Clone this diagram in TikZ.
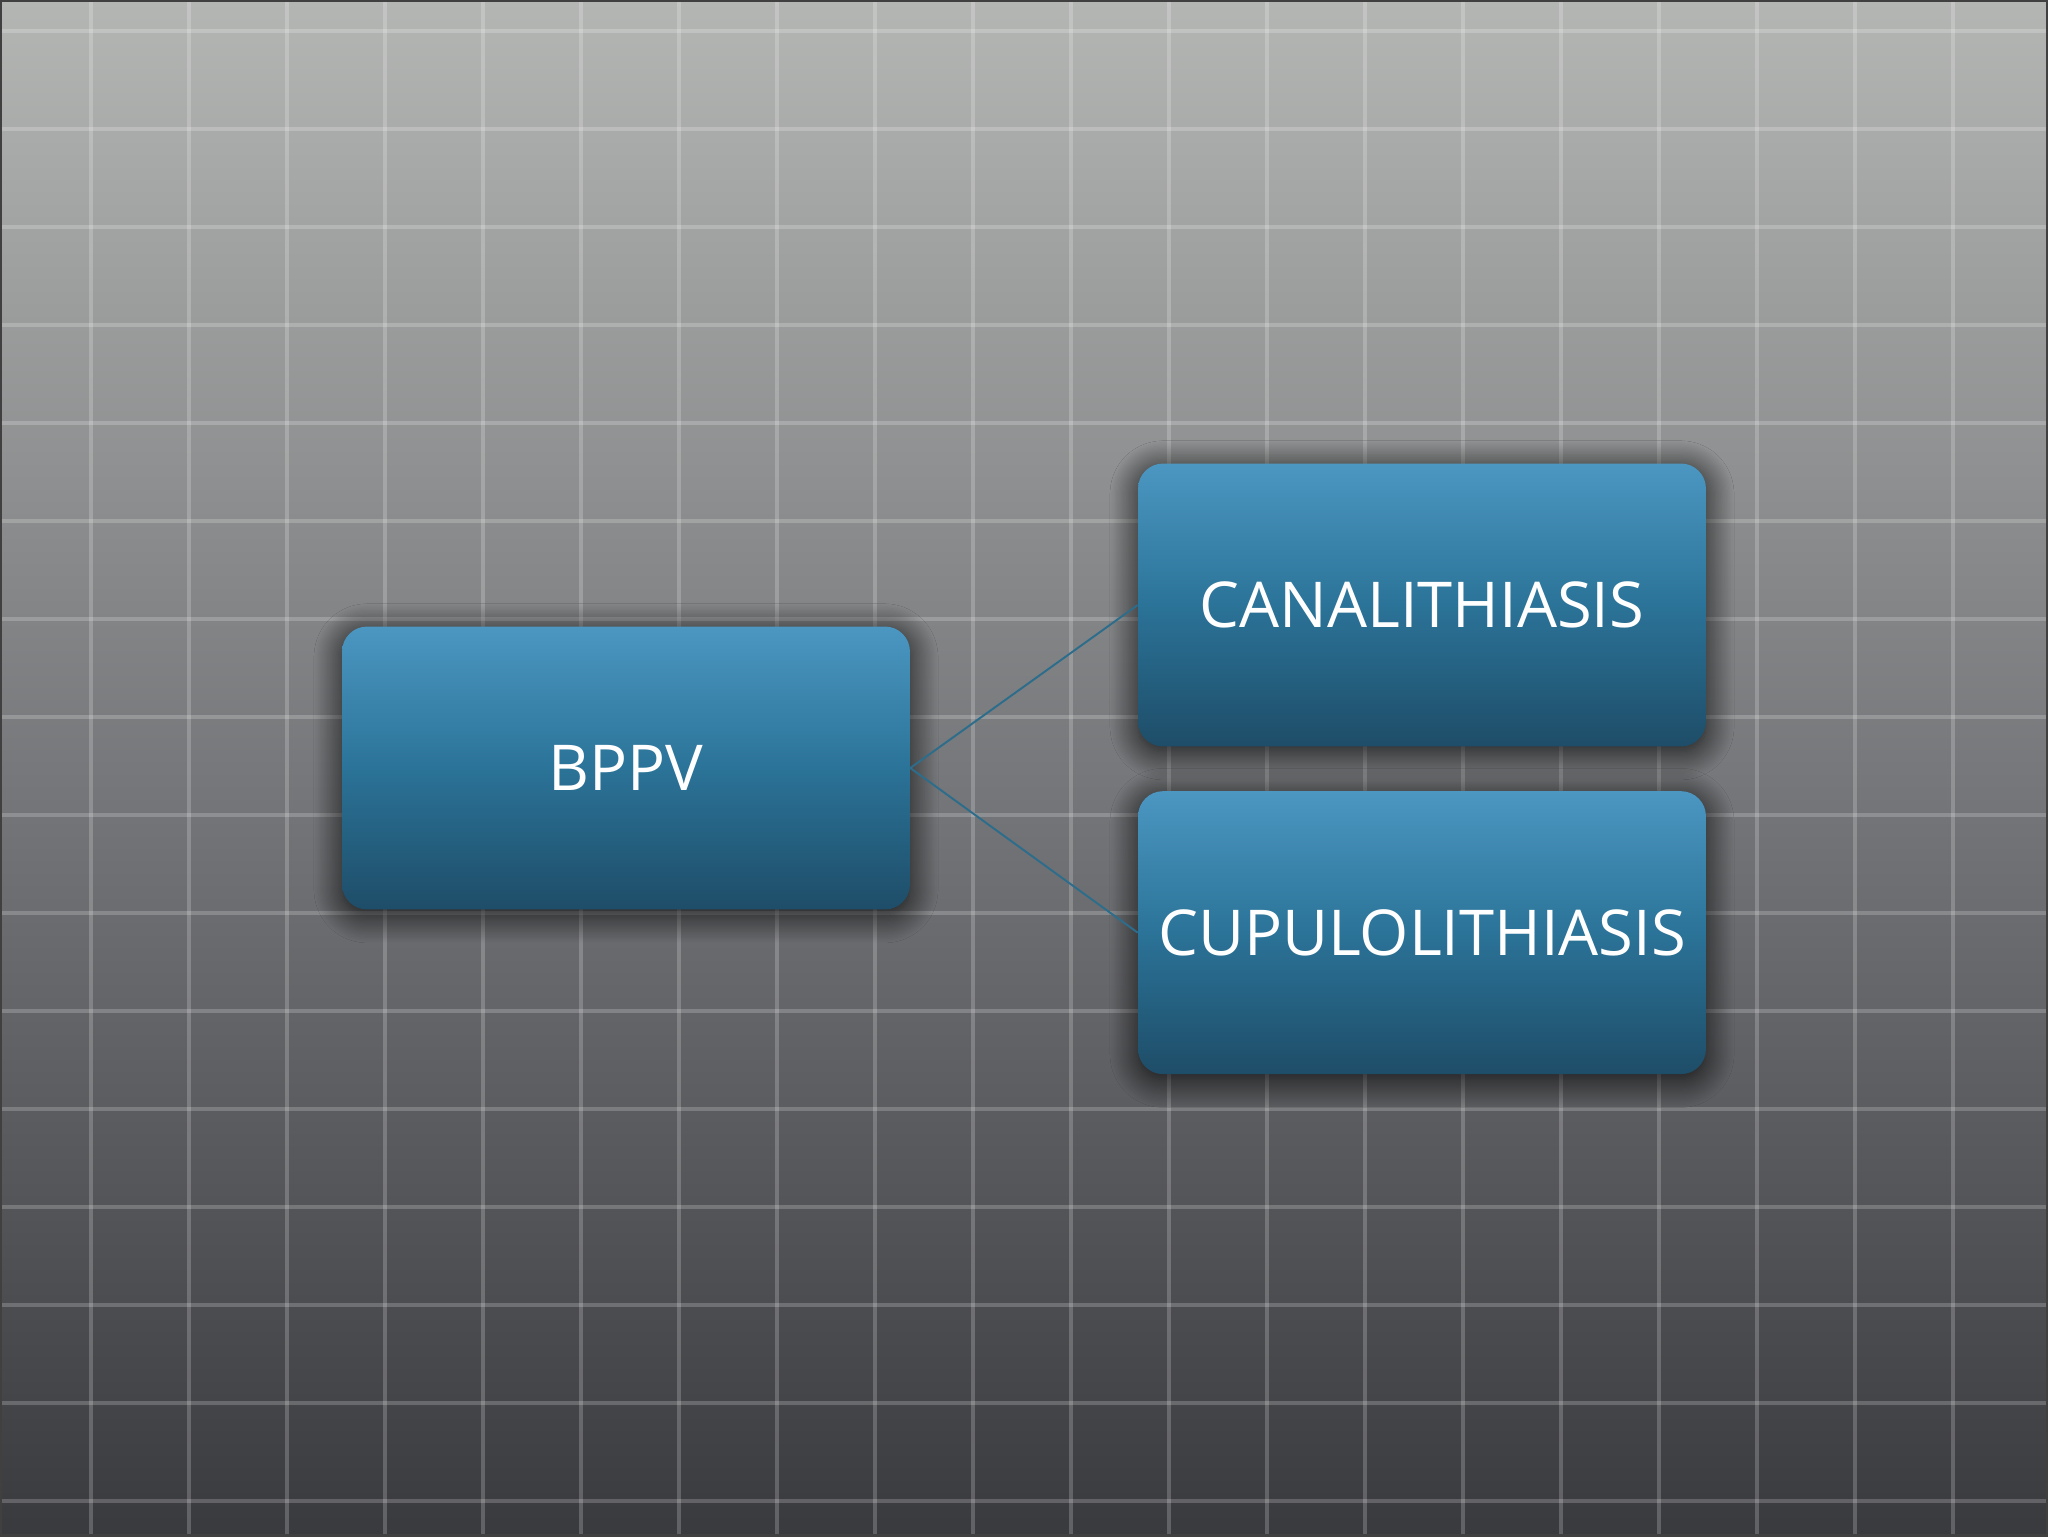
\documentclass[tikz,border=0pt]{standalone}
\usepackage{fontspec}
\setmainfont{Open Sans}
\usepackage{tikz}
\usetikzlibrary{positioning,shadows.blur}

\definecolor{boxtop}{HTML}{4B97C2}
\definecolor{boxmid}{HTML}{2B7398}
\definecolor{boxbot}{HTML}{1E4D68}
\definecolor{linkcol}{HTML}{2D6D8C}

\begin{document}
\begin{tikzpicture}[x=0.02cm,y=-0.02cm]
\tikzstyle{gridline} = [white, opacity=0.2, line width=2.2pt]
\tikzstyle{box} = [rectangle, rounded corners=0.5cm, minimum width=11.36cm, minimum height=5.66cm,
    top color=boxtop, bottom color=boxbot, middle color=boxmid, text=white, font=\fontsize{36}{40}\selectfont,
    blur shadow={shadow xshift=0pt, shadow yshift=-3pt, shadow blur radius=16pt, shadow blur steps=24, shadow opacity=85}]
\tikzstyle{link} = [linkcol, line width=1.1pt]
\useasboundingbox (0,0) rectangle (2048,1536);
% background with grid
\fill[top color={rgb,255:red,180;green,182;blue,180}, bottom color={rgb,255:red,57;green,58;blue,62},
    middle color={rgb,255:red,118;green,120;blue,123}] (0,0) rectangle (2048,1536);
\foreach \gx in {91,189,...,1953}
    \draw[gridline] (\gx,0) -- (\gx,1536);
\foreach \gy in {31,129,...,1501}
    \draw[gridline] (0,\gy) -- (2048,\gy);
\draw[black!75, line width=2pt] (0,0) rectangle (2048,1536);

\node[box] (bppv) at (626,768) {BPPV};
\node[box] (canal) at (1422,605) {CANALITHIASIS};
\node[box, below=0.88cm of canal] (cupulo) {CUPULOLITHIASIS};

\draw[link] (bppv.east) -- (canal.west);
\draw[link] (bppv.east) -- (cupulo.west);
\end{tikzpicture}
\end{document}
